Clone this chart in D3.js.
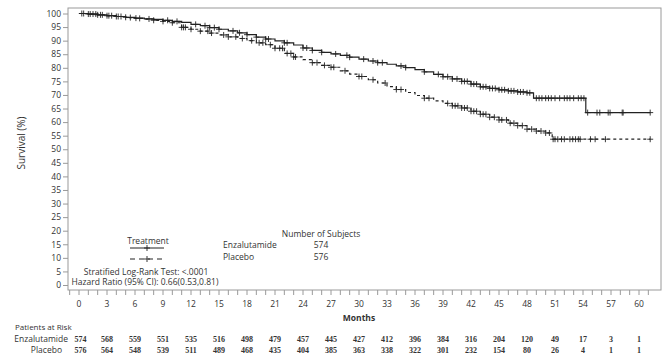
<!DOCTYPE html>
<html><head><meta charset="utf-8">
<script src="https://cdn.jsdelivr.net/npm/d3@7"></script>
<style>
body{margin:0;background:#fff}
svg{display:block}
text{font-family:"Open Sans",sans-serif;fill:#333}
</style>
</head><body>
<svg id="chart" width="672" height="355"></svg>
<script>
// ---- data ----
const enzaTimes = [0,1,2,3,4,5,6,7,8,9,10,11,12,13,14,15,16,17,18,19,20,21,22,23,24,25,26,27,28,29,30,31,32,33,34,35,36,37,38,39,40,41,42,43,44,45,46,47,48,48.7,54.3];
const enzaSurv  = [100,99.8,99.5,99.2,98.9,98.6,98.3,98.0,97.8,97.5,97.1,96.7,96.0,95.5,94.8,94.2,93.6,92.9,92.2,91.3,90.6,89.9,89.2,88.4,87.3,86.4,85.7,85.1,84.6,83.9,83.2,82.5,81.9,81.3,80.7,80.1,79.3,78.5,77.6,76.7,75.9,75.0,74.0,73.0,72.4,71.9,71.5,71.1,70.8,68.8,63.5];
const placTimes = [0,1,2,3,4,5,6,7,8,9,10,11,12,13,14,15,16,17,18,19,20,21,22,23,24,25,26,27,28,29,30,31,32,33,34,35,36,37,38,39,40,41,42,43,44,45,46,47,48,49,50,50.7];
const placSurv  = [100,99.8,99.5,99.2,98.9,98.5,98.2,97.9,97.5,97.1,96.6,94.9,94.2,93.5,92.8,92.1,91.4,90.8,90.0,89.2,88.5,87.2,85.3,84.0,83.0,81.9,80.9,80.2,78.9,77.7,76.8,75.6,74.4,73.1,72.0,70.9,69.8,68.8,67.8,66.9,66.0,65.2,64.0,62.9,61.8,60.8,59.6,58.7,57.4,56.7,56.0,53.7];
const lastTime = 61.2;
const enzaCensor = [0.3,1.0,1.5,2.0,2.3,3.2,4.0,4.2,5.0,6.1,7.5,9.5,10.5,12.5,13.5,14.0,14.5,15.0,16.5,17.2,18.0,19.0,20.0,20.3,22.0,22.3,24.0,24.4,25.0,26.0,27.5,28.7,29.0,30.5,31.5,32.0,32.5,34.5,35.0,37.0,38.5,39.0,39.5,40.0,40.5,41.0,41.3,41.6,42.0,42.3,42.6,43.0,43.3,43.6,44.0,44.3,44.6,45.0,45.3,45.6,46.0,46.3,46.6,47.0,47.3,47.6,48.0,48.3,49.0,49.3,49.6,50.0,50.3,50.6,51.0,51.5,52.0,52.3,52.6,53.0,53.5,53.8,54.1,54.5,55.5,55.8,56.7,56.9,58.2,58.3,61.2];
const placCensor = [0.5,1.2,1.8,2.5,3.0,3.5,4.5,5.5,6.5,8.0,9.0,10.0,11.0,11.2,11.4,12.0,13.0,13.8,14.2,15.5,16.0,16.8,17.5,18.5,19.3,19.7,20.5,21.0,21.5,21.8,22.3,22.7,23.0,23.2,25.0,25.5,26.3,27.0,27.3,28.5,30.0,30.3,31.5,32.8,34.0,34.5,37.0,37.5,39.5,40.0,40.3,40.6,41.0,41.3,41.6,42.0,42.3,42.6,43.0,43.3,43.6,44.0,44.5,45.0,45.3,45.8,46.2,46.6,47.0,47.5,48.0,48.5,49.0,49.5,50.0,50.4,50.8,51.0,51.3,51.7,52.0,52.6,52.9,53.2,53.5,53.7,54.8,55.3,56.4,61.2];
const xTickLabels = [0,3,6,9,12,15,18,21,24,27,30,33,36,39,42,45,48,51,54,57,60];
const yTickLabels = [0,5,10,15,20,25,30,35,40,45,50,55,60,65,70,75,80,85,90,95,100];
const riskTimes = [0,3,6,9,12,15,18,21,24,27,30,33,36,39,42,45,48,51,54,57,60];
const enzaRisk = [574,568,559,551,535,516,498,479,457,445,427,412,396,384,316,204,120,49,17,3,1];
const placRisk = [576,564,548,539,511,489,468,435,404,385,363,338,322,301,232,154,80,26,4,1,1];
const groups = ["Enzalutamide","Placebo"];
const nSubjects = [574,576];

// ---- scales ----
const svg = d3.select("#chart");
const x = d3.scaleLinear().domain([0,60]).range([79,639]);
const y = d3.scaleLinear().domain([0,100]).range([285,13.5]);
const frame = {l:68, r:661, t:8, b:290};
const ink = "#222";

// frame
svg.append("rect").attr("x",frame.l).attr("y",frame.t).attr("width",frame.r-frame.l).attr("height",frame.b-frame.t)
  .attr("fill","none").attr("stroke","#9a9a9a").attr("stroke-width",1);

// y axis
const yAxis = d3.axisLeft(y).tickValues(yTickLabels).tickSize(5).tickPadding(2);
const gy = svg.append("g").attr("transform",`translate(${frame.l},0)`).call(yAxis);
gy.select(".domain").remove();
gy.selectAll("line").attr("stroke","#9a9a9a");
gy.selectAll("text").style("font-size","8.5px").attr("fill","#333").style("font-family","'Open Sans',sans-serif");

// x axis (minor ticks every month, labels every 3)
const xt = d3.range(-1,62,1);
const gx = svg.append("g").attr("transform",`translate(0,${frame.b})`);
gx.selectAll("line").data(xt).join("line")
  .attr("x1",d=>x(d)).attr("x2",d=>x(d)).attr("y1",0).attr("y2",5).attr("stroke","#9a9a9a");
gx.selectAll("text").data(xTickLabels).join("text")
  .attr("x",d=>x(d)).attr("y",17).attr("text-anchor","middle").style("font-size","8.5px").text(d=>d);

svg.append("text").attr("x",x(30)).attr("y",321).attr("text-anchor","middle")
  .style("font-size","8.5px").style("font-weight","bold").text("Months");
svg.append("text").attr("transform","translate(25,143) rotate(-90)").attr("text-anchor","middle")
  .style("font-size","10px").text("Survival (%)");

// survival curves
function stepAt(times, surv, t){ let v = surv[0]; for(let i=0;i<times.length;i++){ if(times[i]<=t) v=surv[i]; } return v; }
function pts(times, surv){ const p = times.map((t,i)=>[t,surv[i]]); p.push([lastTime, surv[surv.length-1]]); return p; }
const line = d3.line().x(d=>x(d[0])).y(d=>y(d[1])).curve(d3.curveStepAfter);
svg.append("path").attr("d",line(pts(placTimes,placSurv))).attr("fill","none").attr("stroke",ink).attr("stroke-width",1.2).attr("stroke-dasharray","3,3");
svg.append("path").attr("d",line(pts(enzaTimes,enzaSurv))).attr("fill","none").attr("stroke",ink).attr("stroke-width",1.2);

function plus(g, cx, cy){
  g.append("path").attr("d",`M${cx-3},${cy}H${cx+3}M${cx},${cy-3}V${cy+3}`).attr("stroke",ink).attr("stroke-width",0.9).attr("fill","none");
}
const gc = svg.append("g");
enzaCensor.forEach(t=>plus(gc, x(t), y(stepAt(enzaTimes,enzaSurv,t))));
placCensor.forEach(t=>plus(gc, x(t), y(stepAt(placTimes,placSurv,t))));

// legend
svg.append("text").attr("x",148).attr("y",244).attr("text-anchor","middle").style("font-size","8.5px").text("Treatment");
svg.append("line").attr("x1",130).attr("x2",164).attr("y1",248).attr("y2",248).attr("stroke",ink).attr("stroke-width",1);
plus(svg,147,248);
svg.append("line").attr("x1",130).attr("x2",164).attr("y1",259).attr("y2",259).attr("stroke",ink).attr("stroke-width",1).attr("stroke-dasharray","5,4");
plus(svg,147,259);
svg.append("text").attr("x",321).attr("y",237).attr("text-anchor","middle").style("font-size","8.5px").text("Number of Subjects");
groups.forEach((g,i)=>{
  svg.append("text").attr("x",223).attr("y",248+i*12).style("font-size","8.5px").text(g);
  svg.append("text").attr("x",321).attr("y",248+i*12).attr("text-anchor","middle").style("font-size","8.5px").text(nSubjects[i]);
});
svg.append("text").attr("x",146).attr("y",275).attr("text-anchor","middle").style("font-size","8.5px").text("Stratified Log-Rank Test: <.0001");
svg.append("text").attr("x",145).attr("y",285).attr("text-anchor","middle").style("font-size","8.5px").text("Hazard Ratio (95% CI): 0.66(0.53,0.81)");

// at-risk table
svg.append("text").attr("x",15).attr("y",330).style("font-size","8px").text("Patients  at  Risk");
const rows = [enzaRisk, placRisk];
const rowY = [341.5, 353];
const rowEnd = [68, 62];
groups.forEach((g,i)=>{
  svg.append("text").attr("x",rowEnd[i]).attr("y",rowY[i]).attr("text-anchor","end").style("font-size","8.5px").text(g);
  svg.append("g").selectAll("text").data(rows[i]).join("text")
    .attr("x",(d,j)=>x(riskTimes[j]) + (j===0 ? 1.5 : 0)).attr("y",rowY[i]).attr("text-anchor","middle")
    .style("font-family","'Liberation Serif',serif").style("font-weight","bold").style("font-size","8px").attr("fill","#333")
    .text(d=>d);
});
</script>
</body></html>
